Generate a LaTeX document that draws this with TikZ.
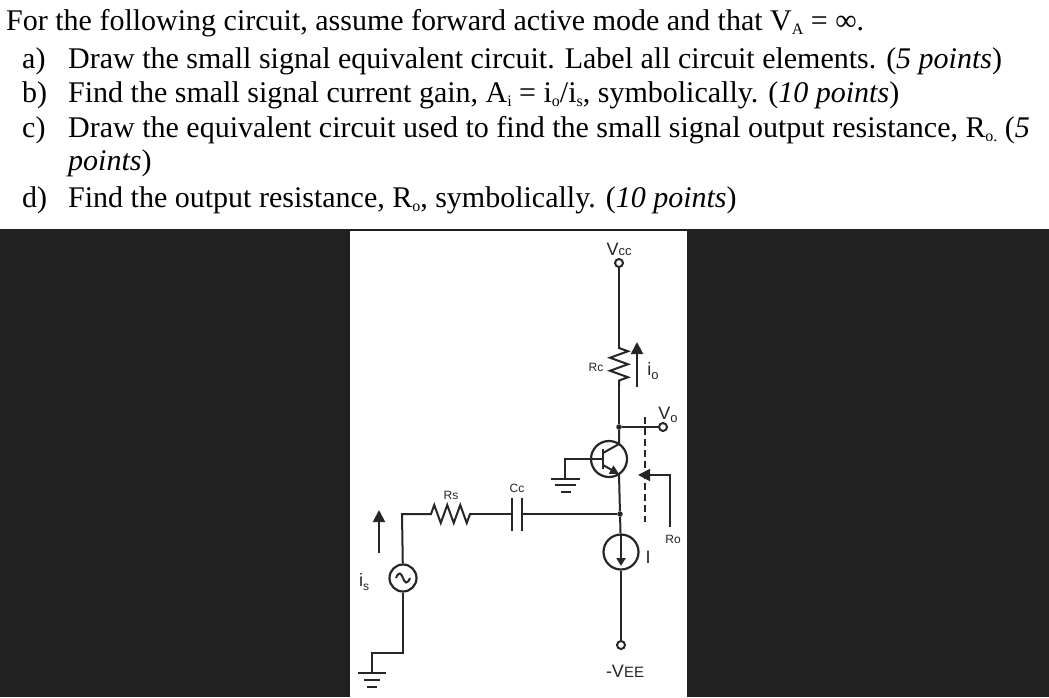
\documentclass[tikz,border=0pt]{standalone}
\usepackage{fontspec}
\setmainfont{Liberation Serif}
\newfontfamily\labelfont{Liberation Sans}
\usetikzlibrary{arrows.meta,decorations.pathmorphing}
\tikzset{
    qline/.style={anchor=base west,inner sep=0pt,font=\fontsize{30}{30}\selectfont},
    wire/.style={line width=2pt,black!85},
    res/.style={wire,decorate,decoration={zigzag,segment length=13pt,amplitude=9pt,pre length=1pt,post length=1pt}},
    term/.style={circle,draw=black!85,line width=2pt,fill=white,inner sep=0pt,minimum size=8pt},
    src/.style={circle,draw=black!85,line width=2.2pt,fill=white,inner sep=0pt},
    dot/.style={circle,fill=black!85,inner sep=0pt,minimum size=5.5pt},
    lab/.style={inner sep=0pt,text=black!85,font=\labelfont\fontsize{12}{12}\selectfont},
    biglab/.style={inner sep=0pt,text=black!85,font=\labelfont\fontsize{18}{18}\selectfont},
    curarrow/.style={wire,-{Triangle[length=12pt,width=12pt]}}
}
\newcommand{\lowtext}[1]{\raisebox{-0.35ex}{\fontsize{16}{16}\selectfont #1}}
\begin{document}
\begin{tikzpicture}[x=1pt,y=-1pt]
    \useasboundingbox (0,0) rectangle (1049,697);
    \fill[white] (0,0) rectangle (1049,697);
    \fill[black!87] (0,229) rectangle (1049,697);
    \fill[white] (350,231) rectangle (687,697);
    % question text
    \node[qline] (qhead) at (6,30) {For the following circuit, assume forward active mode and that V\lowtext{A} = ∞.};
    \node[qline] (qa) at (22,68) {a)};
    \node[qline] (qatext) at (68,68) {Draw the small signal equivalent circuit. Label all circuit elements. (\textit{5 points})};
    \node[qline] (qb) at (22,102) {b)};
    \node[qline] (qbtext) at (68,102) {Find the small signal current gain, A\lowtext{i} = i\lowtext{o}/i\lowtext{s}, symbolically. (\textit{10 points})};
    \node[qline] (qc) at (22,137) {c)};
    \node[qline] (qctext) at (68,137) {Draw the equivalent circuit used to find the small signal output resistance, R\lowtext{o.} (\textit{5}};
    \node[qline] (qcmore) at (68,170) {\textit{points})};
    \node[qline] (qd) at (22,207) {d)};
    \node[qline] (qdtext) at (68,207) {Find the output resistance, R\lowtext{o}, symbolically. (\textit{10 points})};
    % output branch
    \node[term] (vcc) at (619,263) {};
    \node[biglab] (vcclab) at (619,249) {V{\fontsize{13}{13}\selectfont cc}};
    \coordinate (rctop) at (619,347);
    \coordinate (rcbot) at (619,386);
    \node[dot] (out) at (619,427) {};
    \node[term] (vo) at (663,427) {};
    \draw[wire] (vcc) -- (rctop);
    \draw[res] (rctop) -- (rcbot);
    \draw[wire] (rcbot) -- (out);
    \draw[wire] (out) -- (vo);
    \node[lab] (rclab) at (596,367) {Rc};
    \coordinate (iotail) at (637,387);
    \coordinate (iotip) at (637,342);
    \draw[curarrow] (iotail) -- (iotip);
    \node[biglab] (iolab) at (653,371) {i\lowtext{\fontsize{13}{13}\selectfont o}};
    \node[biglab] (volab) at (668,415) {V\lowtext{\fontsize{13}{13}\selectfont o}};
    % transistor
    \node[circle,draw=black!85,line width=2.2pt,minimum size=36pt,inner sep=0pt] (qone) at (609,459) {};
    \coordinate (bar) at (603,459);
    \coordinate (bartop) at (603,449);
    \coordinate (barbot) at (603,469);
    \coordinate (coll) at (619,444);
    \coordinate (emit) at (619,474);
    \coordinate (cfrom) at (603,453);
    \coordinate (efrom) at (603,465);
    \draw[line width=2.5pt,black!85] (bartop) -- (barbot);
    \draw[wire] (out) -- (coll) -- (cfrom);
    \draw[wire,-{Triangle[length=9pt,width=9pt]}] (efrom) -- (emit);
    % base ground
    \coordinate (gndb) at (565,459);
    \coordinate (gndbt) at (565,479);
    \draw[wire] (bar) -- (gndb) -- (gndbt);
    \coordinate (g1l) at (551,479); \coordinate (g1r) at (580,479);
    \coordinate (g2l) at (555,485); \coordinate (g2r) at (576,485);
    \coordinate (g3l) at (561,492); \coordinate (g3r) at (571,492);
    \draw[wire] (g1l) -- (g1r);
    \draw[wire] (g2l) -- (g2r);
    \draw[wire] (g3l) -- (g3r);
    % emitter, current source
    \node[dot] (enode) at (620,514) {};
    \node[src,minimum size=35pt] (isrc) at (621,552) {};
    \node[term] (vee) at (621,645) {};
    \draw[wire] (emit) -- (enode);
    \draw[wire] (enode) -- (isrc);
    \draw[wire] (isrc) -- (vee);
    \coordinate (ibtop) at (621,535);
    \coordinate (ibtip) at (621,566);
    \draw[wire,-{Triangle[length=8pt,width=9pt]}] (ibtop) -- (ibtip);
    \node[biglab] (ilab) at (648,557) {I};
    \node[biglab] (veelab) at (625,671) {-V{\fontsize{15}{15}\selectfont EE}};
    % looking in
    \coordinate (dashtop) at (645,417);
    \coordinate (dashbot) at (645,522);
    \draw[wire,dash pattern=on 7pt off 4pt] (dashtop) -- (dashbot);
    \coordinate (rostart) at (670,527);
    \coordinate (rocorner) at (670,475);
    \coordinate (rotip) at (638,475);
    \draw[curarrow] (rostart) -- (rocorner) -- (rotip);
    \node[lab] (rolab) at (673,539) {Ro};
    % input
    \node[src,minimum size=27pt] (sig) at (403,578) {};
    \coordinate (sigtilde) at (403,578);
    \draw[wire] (396,578) .. controls (399,571) and (401,573) .. (sigtilde) .. controls (405,583) and (407,585) .. (410,578);
    \coordinate (incorner) at (402,514);
    \coordinate (rsleft) at (430,514);
    \coordinate (rsright) at (472,514);
    \coordinate (capl) at (512,514);
    \coordinate (capr) at (522,514);
    \draw[wire] (sig) -- (incorner) -- (rsleft);
    \draw[res] (rsleft) -- (rsright);
    \draw[wire] (rsright) -- (capl);
    \draw[wire] (capr) -- (enode);
    \coordinate (capla) at (512,498); \coordinate (caplb) at (512,531);
    \coordinate (capra) at (522,498); \coordinate (caprb) at (522,531);
    \draw[wire] (capla) -- (caplb);
    \draw[wire] (capra) -- (caprb);
    \node[lab] (rslab) at (451,495) {Rs};
    \node[lab] (cclab) at (517,488) {Cc};
    \coordinate (istail) at (379,553);
    \coordinate (istip) at (379,510);
    \draw[curarrow] (istail) -- (istip);
    \node[biglab] (islab) at (364,582) {i\lowtext{\fontsize{12}{12}\selectfont s}};
    % input ground
    \coordinate (gndfold) at (403,653);
    \coordinate (gndleft) at (372,653);
    \coordinate (gndtop) at (372,673);
    \draw[wire] (sig) -- (gndfold) -- (gndleft) -- (gndtop);
    \coordinate (h1l) at (358,673); \coordinate (h1r) at (386,673);
    \coordinate (h2l) at (364,680); \coordinate (h2r) at (380,680);
    \coordinate (h3l) at (367,687); \coordinate (h3r) at (377,687);
    \draw[wire] (h1l) -- (h1r);
    \draw[wire] (h2l) -- (h2r);
    \draw[wire] (h3l) -- (h3r);
\end{tikzpicture}
\end{document}
